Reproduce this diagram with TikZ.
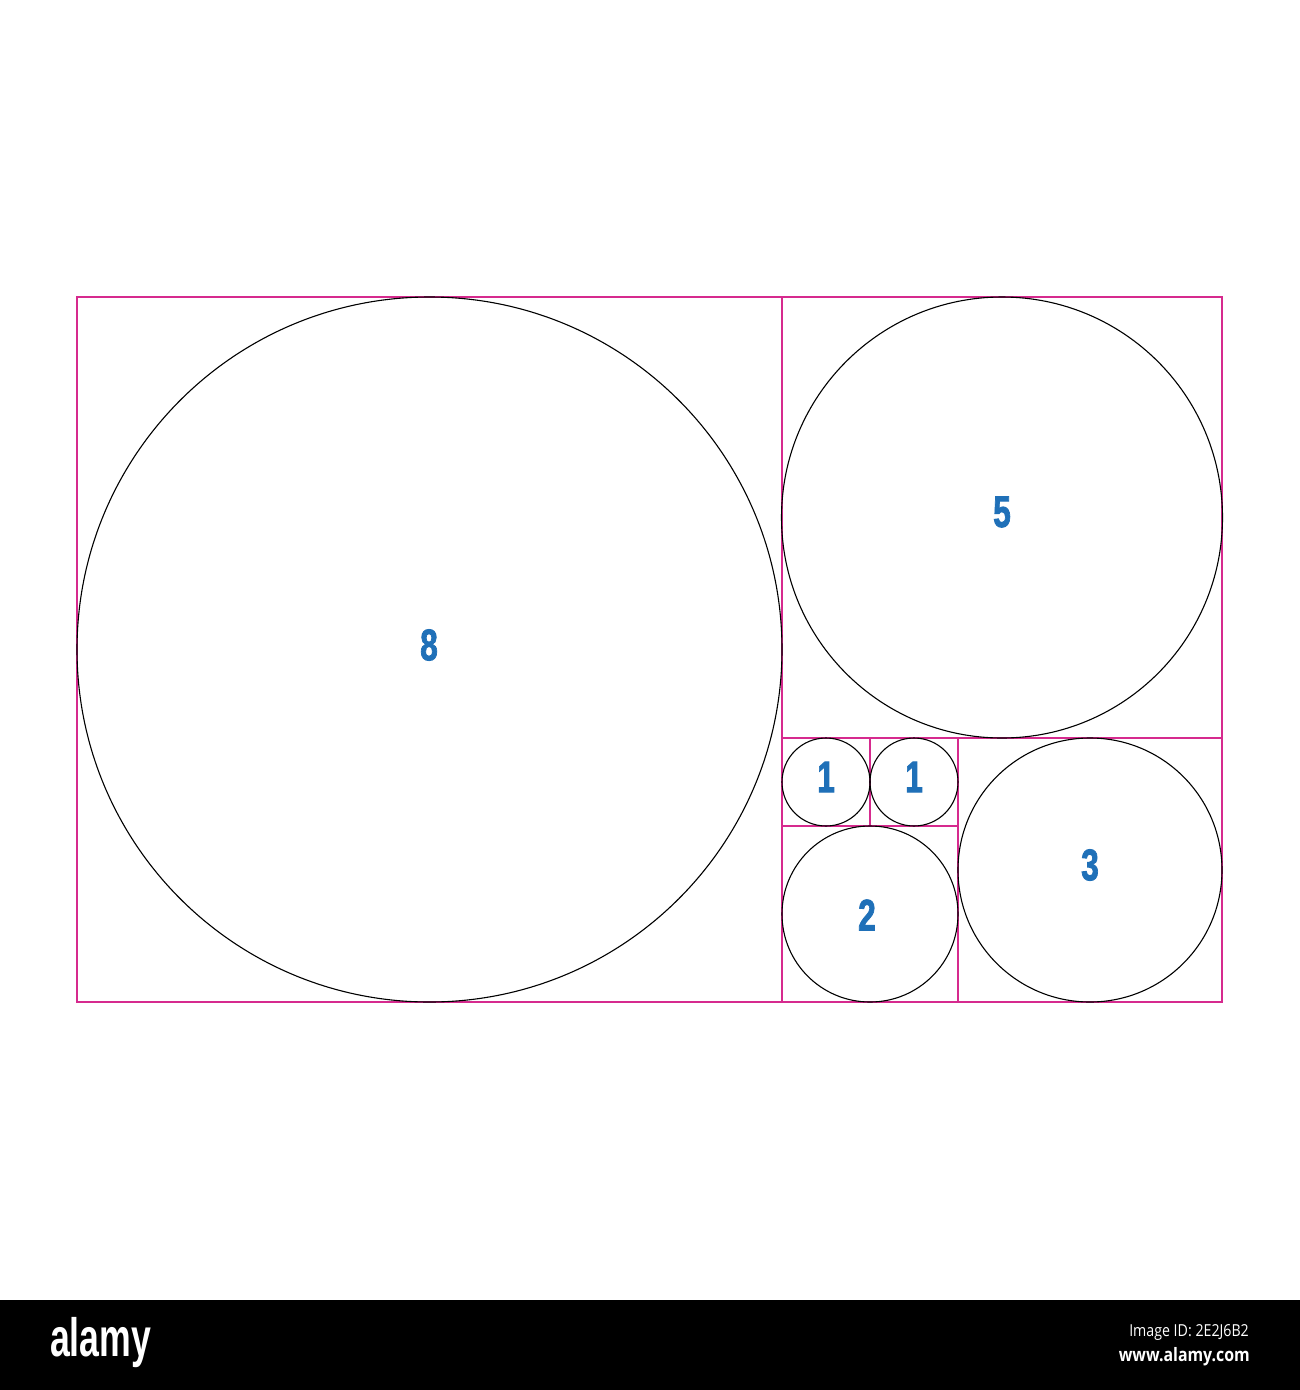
\documentclass[tikz,border=0pt]{standalone}
\usepackage{fontspec}
\setmainfont{Liberation Sans}
\newfontfamily\numfont[FakeBold=2.2]{Liberation Sans Bold}
\newfontfamily\wmfont{Open Sans}
\definecolor{pinkline}{HTML}{D62A8E}
\definecolor{numblue}{HTML}{1F70B8}
\tikzset{
  sq/.style={draw=pinkline, line width=1.4pt},
  circ/.style={draw=black, line width=1.1pt},
  num/.style={text=numblue, font=\numfont\bfseries\fontsize{44}{44}\selectfont, xscale=0.72, inner sep=0pt},
  wm/.style={text=white, inner sep=0pt}
}
\begin{document}
\begin{tikzpicture}[x=1pt,y=-1pt]
\useasboundingbox (0,0) rectangle (1300,1390);
\fill[white] (0,0) rectangle (1300,1390);
% squares
\draw[sq] (77,297) rectangle (1222,1002);
\draw[sq] (782,297) -- (782,1002);
\draw[sq] (782,738) -- (1222,738);
\draw[sq] (958,738) -- (958,1002);
\draw[sq] (782,826) -- (958,826);
\draw[sq] (870,738) -- (870,826);
% circles
\draw[circ] (429.5,649.5) circle (352.5);
\draw[circ] (1002,517.5) circle (220.5);
\draw[circ] (826,782) circle (44);
\draw[circ] (914,782) circle (44);
\draw[circ] (870,914) circle (88);
\draw[circ] (1090,870) circle (132);
% labels
\node[num] (n8) at (429,645) {8};
\node[num] (n5) at (1002,512) {5};
\node[num] (n1a) at (826,777) {1};
\node[num] (n1b) at (914,777) {1};
\node[num] (n2) at (867,915) {2};
\node[num] (n3) at (1090,865) {3};
% watermark bar
\fill[black] (0,1300) rectangle (1300,1390);
\node[wm, font=\bfseries\fontsize{54}{54}\selectfont, xscale=0.66, anchor=west] (logo) at (50,1343) {alamy};
\node[wm, font=\wmfont\fontsize{16.5}{16.5}\selectfont, xscale=0.86, anchor=east] (imgid) at (1249,1332) {Image ID: 2E2J6B2};
\node[wm, font=\wmfont\bfseries\fontsize{18.5}{18.5}\selectfont, xscale=0.86, anchor=east] (www) at (1250,1357) {www.alamy.com};
\end{tikzpicture}
\end{document}
